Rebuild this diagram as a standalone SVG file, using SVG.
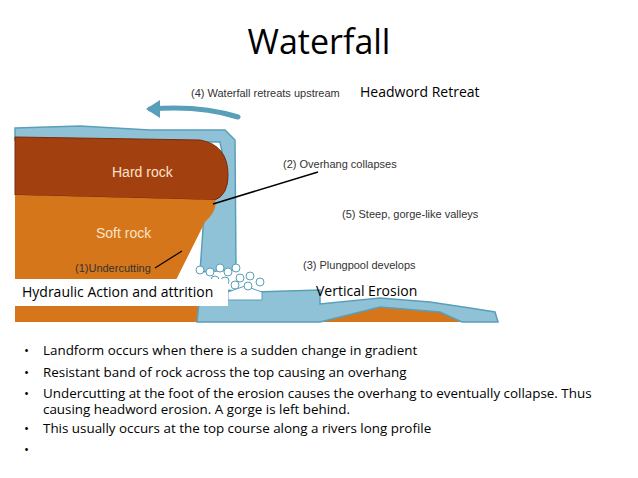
<svg xmlns="http://www.w3.org/2000/svg" width="638" height="478" viewBox="0 0 638 478">
<style>
.w{fill:#8fc2d6;stroke:#5a9fba;stroke-width:1.5}
.l{font-family:"Liberation Sans",Arial,sans-serif;font-size:11px;fill:#333}
.t{font-family:"Open Sans","Liberation Sans",sans-serif;font-size:14px;fill:#000}
.b{font-family:"Open Sans","Liberation Sans",sans-serif;font-size:13.4px;fill:#000}
.rk{font-family:"Liberation Sans",Arial,sans-serif;font-size:14px;fill:#fbe3c8}
</style>
<rect width="638" height="478" fill="#fff"/>
<text x="319" y="54" text-anchor="middle" font-family="'Open Sans','Liberation Sans',sans-serif" font-size="34" fill="#000">Waterfall</text>
<g id="scene">
<path class="w" d="M15,128 L80,126 L150,130 L225,130 L235,140 L236,270 L200,272 L205,200 L228,180 L220,142 L15,140 Z"/>
<path d="M15,303 L195,303 L320,304 L380,300 L430,304 L462,312 L462,322 L15,322 Z" fill="#d6761a"/>
<path class="w" d="M197,322 L200,292 L225,290 L250,292 L320,290 L320,304 L380,298 L430,302 L470,308 L495,312 L498,322 L462,322 L440,312 L380,307 L320,322 Z"/>
<path d="M15,137 L200,140 Q228,145 228,175 Q228,195 215,200 L15,195 Z" fill="#a3400f" stroke="#7a2a08"/>
<path d="M15,195 L215,200 Q218,210 205,222 L175,282 L15,282 Z" fill="#d6761a"/>
<path d="M228,292 L245,286 L262,292 L262,300 L228,300 Z" fill="#fff" stroke="#5a9fba"/>
<g fill="#fff" stroke="#5a9fba">
<circle cx="200" cy="270" r="4"/><circle cx="210" cy="272" r="4"/><circle cx="220" cy="268" r="4"/><circle cx="228" cy="272" r="4"/><circle cx="236" cy="268" r="4"/><circle cx="215" cy="280" r="4"/><circle cx="225" cy="281" r="4"/><circle cx="240" cy="278" r="4"/><circle cx="250" cy="276" r="4"/><circle cx="260" cy="282" r="4"/><circle cx="235" cy="285" r="4"/><circle cx="248" cy="286" r="4"/>
</g>
<path d="M238,117 Q200,105 150,109" fill="none" stroke="#5a9fba" stroke-width="5" stroke-linecap="round"/>
<path d="M146,109 L160,100 L160,118 Z" fill="#5a9fba"/>
<line x1="213" y1="204" x2="318" y2="172" stroke="#000" stroke-width="1.5"/>
<line x1="155" y1="268" x2="182" y2="251" stroke="#000" stroke-width="1.2"/>
<text x="112" y="177" class="rk">Hard rock</text>
<text x="96" y="238" class="rk">Soft rock</text>
<text x="75" y="272" class="l" fill="#4a2400">(1)Undercutting</text>
<text x="283" y="168" class="l">(2) Overhang collapses</text>
<text x="342" y="218" class="l">(5) Steep, gorge-like valleys</text>
<text x="303" y="269" class="l">(3) Plungpool develops</text>
<text x="191" y="97" class="l">(4) Waterfall retreats upstream</text>
<rect x="15" y="279" width="213" height="27" fill="#fff"/>
<text x="22" y="297" class="t">Hydraulic Action and attrition</text>
<text x="316" y="296" class="t">Vertical Erosion</text>
<text x="360" y="97" class="t">Headword Retreat</text>
</g>
<g class="b">
<text x="24" y="355">•</text><text x="43" y="355">Landform occurs when there is a sudden change in gradient</text>
<text x="24" y="377">•</text><text x="43" y="377">Resistant band of rock across the top causing an overhang</text>
<text x="24" y="398">•</text><text x="43" y="398"><tspan x="43" y="398"> Undercutting at the foot of the erosion causes the overhang to eventually collapse. Thus</tspan><tspan x="43" y="414">causing headword erosion. A gorge is left behind.</tspan></text>
<text x="24" y="433">•</text><text x="43" y="433">This usually occurs at the top course along a rivers long profile</text>
<text x="24" y="454">•</text>
</g>
</svg>
